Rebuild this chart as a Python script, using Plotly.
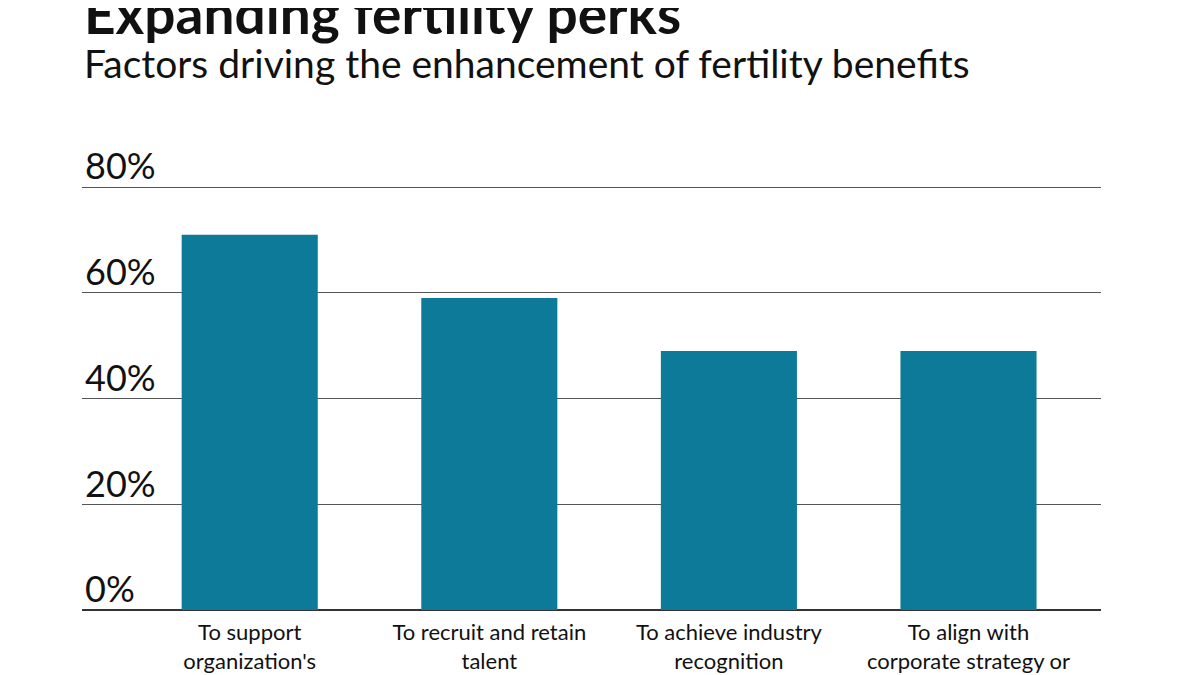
import plotly.graph_objects as go

categories = [
    "To support<br>organization's<br>inclusion and<br>diversity goals",
    "To recruit and retain<br>talent",
    "To achieve industry<br>recognition",
    "To align with<br>corporate strategy or<br>mission",
]
values = [71, 59, 49, 49]
tick_vals = [0, 20, 40, 60, 80]
tick_text = ["0%", "20%", "40%", "60%", "80%"]

FONT = "Lato"

fig = go.Figure()
fig.add_trace(go.Bar(
    x=list(range(len(categories))),
    y=values,
    marker=dict(color="#0e7a99", line=dict(width=0)),
    width=0.568,
    hoverinfo="skip",
))

fig.update_layout(
    width=1200, height=675,
    margin=dict(l=74, r=107, t=178, b=73),
    plot_bgcolor="white", paper_bgcolor="white",
    showlegend=False,
    font=dict(family=FONT, color="#111111"),
    xaxis=dict(
        tickmode="array",
        tickvals=list(range(len(categories))),
        ticktext=categories,
        range=[-0.70, 3.553],
        showgrid=False, zeroline=False, showline=False,
        ticks="", tickfont=dict(size=22, color="#111111"),
        ticklabelstandoff=7,
        automargin=False,
        fixedrange=True,
    ),
    yaxis=dict(
        tickmode="array",
        tickvals=tick_vals,
        ticktext=tick_text,
        range=[0, 80.2],
        showgrid=True, gridcolor="#555555", gridwidth=1,
        zeroline=True, zerolinecolor="#333333", zerolinewidth=1.5,
        showline=False, ticks="",
        ticklabelposition="inside top",
        ticklabeloverflow="allow",
        ticklabelshift=5,
        tickfont=dict(size=36, color="#111111"),
        automargin=False,
        fixedrange=True,
    ),
    annotations=[
        dict(text="<b>Expanding fertility perks</b>", xref="paper", yref="paper",
             x=0, y=1.326, xanchor="left", yanchor="bottom", showarrow=False,
             font=dict(size=55, family=FONT, color="#111111")),
        dict(text="Factors driving the enhancement of fertility benefits", xref="paper", yref="paper",
             x=0, y=1.232, xanchor="left", yanchor="bottom", showarrow=False,
             font=dict(size=39, family=FONT, color="#111111")),
    ],
)

fig.write_html("out.html")
